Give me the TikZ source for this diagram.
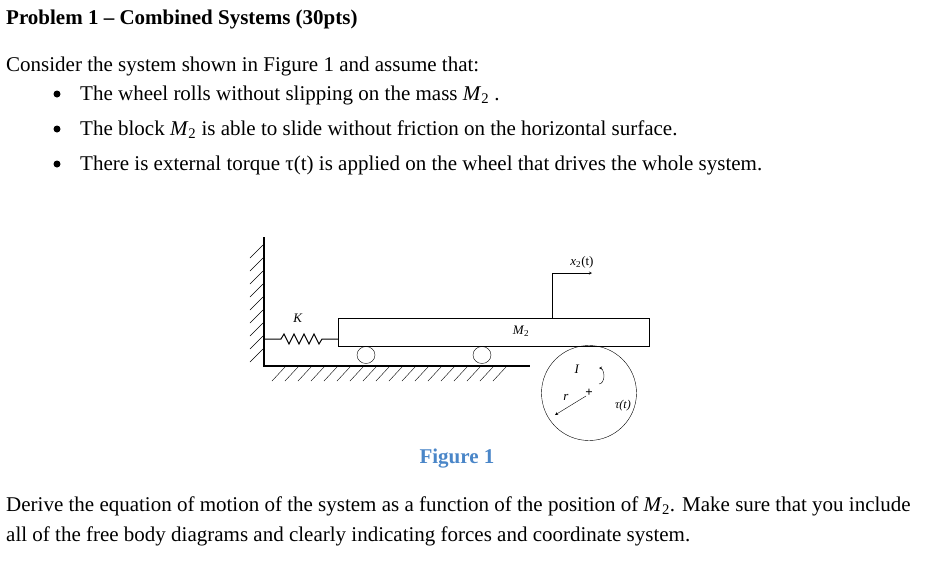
\documentclass[tikz,border=0pt]{standalone}
\usepackage{fontspec}
\setmainfont{Liberation Serif}
\begin{document}
\begin{tikzpicture}[x=1pt,y=-1pt,
  txt/.style={anchor=base west,inner sep=0pt,font=\fontsize{21}{25}\selectfont},
  lbl/.style={inner sep=0pt,font=\fontsize{13}{15}\selectfont},
  heavy/.style={line width=2.6pt}]
\newcommand{\Mtwo}{\textit{M}\textsubscript{2}}
\useasboundingbox (0,0) rectangle (948,576);
\node[txt,font=\fontsize{21}{25}\selectfont\bfseries] (title) at (6,24) {Problem 1 – Combined Systems (30pts)};
\node[txt] (c) at (6,71) {Consider the system shown in Figure 1 and assume that:};
\foreach \y in {100,135,170} \fill (57,\y-6) circle (3.5);
\node[txt] (b1) at (80,100) {The wheel rolls without slipping on the mass  \Mtwo\ .};
\node[txt] (b2) at (80,135) {The block \Mtwo\ is able to slide without friction on the horizontal surface.};
\node[txt] (b3) at (80,170) {There is external torque τ(t) is applied on the wheel that drives the whole system.};
\node[txt,font=\fontsize{21}{25}\selectfont\bfseries,text={rgb,255:red,74;green,134;blue,200},anchor=base] (fig) at (457,463) {Figure 1};
\node[txt] (d1) at (6,511) {Derive the equation of motion of the system as a function of the position of \Mtwo. Make sure that you include};
\node[txt] (d2) at (6,541) {all of the free body diagrams and clearly indicating forces and coordinate system.};
% wall and ground
\draw[heavy] (264,237) -- (264,366) -- (530,366);
\foreach \y in {245,258,...,360} \draw (263,\y) -- (250,\y+13);
\foreach \x in {285,298,...,510} \draw (\x,367) -- (\x-13,381);
% block
\node[draw,minimum width=311,minimum height=28,inner sep=0pt] (m2) at (493.5,332) {};
\node[lbl] (m2l) at (521,331) {\Mtwo};
% spring
\coordinate (sw) at (264,339);
\draw[line width=1pt] (sw) -- (281,339) -- (284,334) -- (289,344) -- (294,334) -- (299,344) -- (304,334) -- (309,344) -- (314,334) -- (319,344) -- (322,339) -- (m2.west |- 0,339);
\node[lbl] (k) at (298,318) {\textit{K}};
% rollers
\draw (366,355) ellipse (9 and 8.5);
\draw (482,355) ellipse (9 and 8.5);
% x2 arrow
\coordinate (xa) at (552,318);
\coordinate (xb) at (552,273);
\coordinate (xc) at (592,273);
\draw[-stealth] (xa) -- (xb) -- (xc);
\node[lbl] (x2) at (582,262) {\textit{x}\textsubscript{2}(t)};
% wheel
\node[draw,circle,minimum size=95,inner sep=0pt] (w) at (589,393) {};
\node[lbl,font=\fontsize{13}{15}\selectfont\bfseries] (wc) at (w.center) {+};
\node[lbl] (I) at (577,369) {\textit{I}};
\draw[-stealth] (w.center) ++(-3,3) -- (555,415);
\node[lbl] (r) at (566,397) {\textit{r}};
\draw[-stealth] (599,384) arc (90:-90:5 and 8);
\node[lbl,font=\fontsize{12}{14}\selectfont] (tau) at (623,406) {\textit{τ(t)}};
\end{tikzpicture}
\end{document}
